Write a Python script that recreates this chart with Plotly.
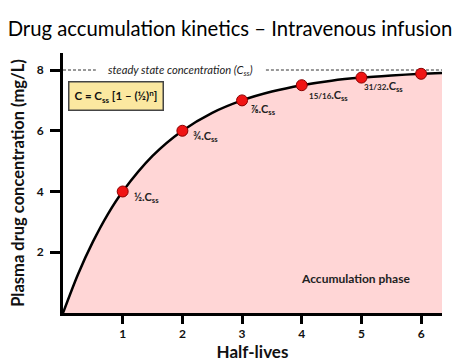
import plotly.graph_objects as go

# ---- data ----
CSS = 8  # steady state concentration (mg/L)
half_lives = [1, 2, 3, 4, 5, 6]
concentrations = [4, 6, 7, 7.5, 7.75, 7.875]
point_fracs = ["½", "¾", "⅞", "15/16", "31/32", ""]

curve_t = [0, 0.25, 0.5, 0.75, 1, 1.5, 2, 2.5, 3, 3.5, 4, 4.5, 5, 5.5, 6, 6.35]
curve_c = [0, 1.27, 2.34, 3.25, 4.0, 5.17, 6.0, 6.59, 7.0, 7.29, 7.5, 7.65, 7.75, 7.82, 7.875, 7.9]

x_ticks = [1, 2, 3, 4, 5, 6]
y_ticks = [2, 4, 6, 8]

FONT = "Lato, 'Open Sans', sans-serif"

fig = go.Figure()

# filled accumulation curve
fig.add_trace(go.Scatter(
    x=curve_t, y=curve_c, mode="lines",
    line=dict(color="black", width=2.5, shape="spline", smoothing=0.8),
    fill="tozeroy", fillcolor="rgb(255,214,214)",
    hoverinfo="skip", showlegend=False))

# steady-state dashed line (broken around the label)
fig.add_trace(go.Scatter(
    x=[0, 0.55, None, 3.4, curve_t[-1]], y=[CSS, CSS, None, CSS, CSS],
    mode="lines", line=dict(color="#333", width=1, dash="3px,2px"),
    hoverinfo="skip", showlegend=False))

# points
fig.add_trace(go.Scatter(
    x=half_lives, y=concentrations, mode="markers",
    marker=dict(size=11, color="#f01414", line=dict(color="#8a0000", width=1)),
    showlegend=False))

ann = []
shifts = [(9, -6), (9, -6), (7, -9), (5, -10), (1, -9), (0, 0)]
for t, c, f, (dx, dy) in zip(half_lives, concentrations, point_fracs, shifts):
    if not f:
        continue
    if "/" in f:
        txt = f"<b><span style='font-size:8px'>{f}</span>.C<sub>ss</sub></b>"
    else:
        txt = f"<b>{f}.C<sub>ss</sub></b>"
    ann.append(dict(x=t, y=c, xref="x", yref="y", text=txt, showarrow=False,
                    xanchor="left", yanchor="middle", xshift=dx, yshift=dy,
                    font=dict(family=FONT, size=11, color="#222")))

ann.append(dict(x=1.97, y=CSS, xref="x", yref="y",
                text="<i>steady state concentration (C<sub>ss</sub>)</i>",
                showarrow=False, font=dict(family=FONT, size=11.2, color="#222")))

ann.append(dict(x=0.89, y=7.13, xref="x", yref="y",
                text="<b>C = C<sub>ss</sub> [1 – (½)<sup>n</sup>]</b>",
                showarrow=False, bgcolor="#fbe8a0", bordercolor="#444",
                borderwidth=1.5, borderpad=5,
                font=dict(family=FONT, size=11.5, color="#111")))

ann.append(dict(x=4.9, y=1.15, xref="x", yref="y", text="<b>Accumulation phase</b>",
                showarrow=False, font=dict(family=FONT, size=12, color="#222")))

# the page body adds an 8px offset, so the figure is sized/margined to compensate
fig.update_layout(
    width=452, height=356,
    margin=dict(l=55, r=18, t=45, b=51),
    paper_bgcolor="white", plot_bgcolor="white",
    title=dict(text="Drug accumulation kinetics – Intravenous infusion",
               x=0.491, xanchor="center", y=0.94, yanchor="middle",
               font=dict(family=FONT, size=20.3, color="black")),
    annotations=ann,
    xaxis=dict(range=[0, 6.35], tickvals=x_ticks, ticks="outside", ticklen=8,
               tickwidth=3, tickcolor="black", showline=True, linewidth=3,
               linecolor="black", showgrid=False, zeroline=False, automargin=False,
               ticklabelstandoff=0,
               tickfont=dict(family=FONT, size=12, color="#111", weight="bold"),
               title=dict(text="Half-lives", standoff=5,
                          font=dict(family=FONT, size=17, color="#111", weight="bold"))),
    yaxis=dict(range=[0, 8.56], tickvals=y_ticks, ticks="outside", ticklen=10,
               tickwidth=3, tickcolor="black", showline=True, linewidth=3,
               linecolor="black", showgrid=False, zeroline=False, automargin=False,
               ticklabelstandoff=4,
               tickfont=dict(family=FONT, size=12, color="#111", weight="bold"),
               title=dict(text="Plasma drug concentration (mg/L)", standoff=11,
                          font=dict(family=FONT, size=16.5, color="#111", weight="bold"))),
)

fig.write_html("out.html")
